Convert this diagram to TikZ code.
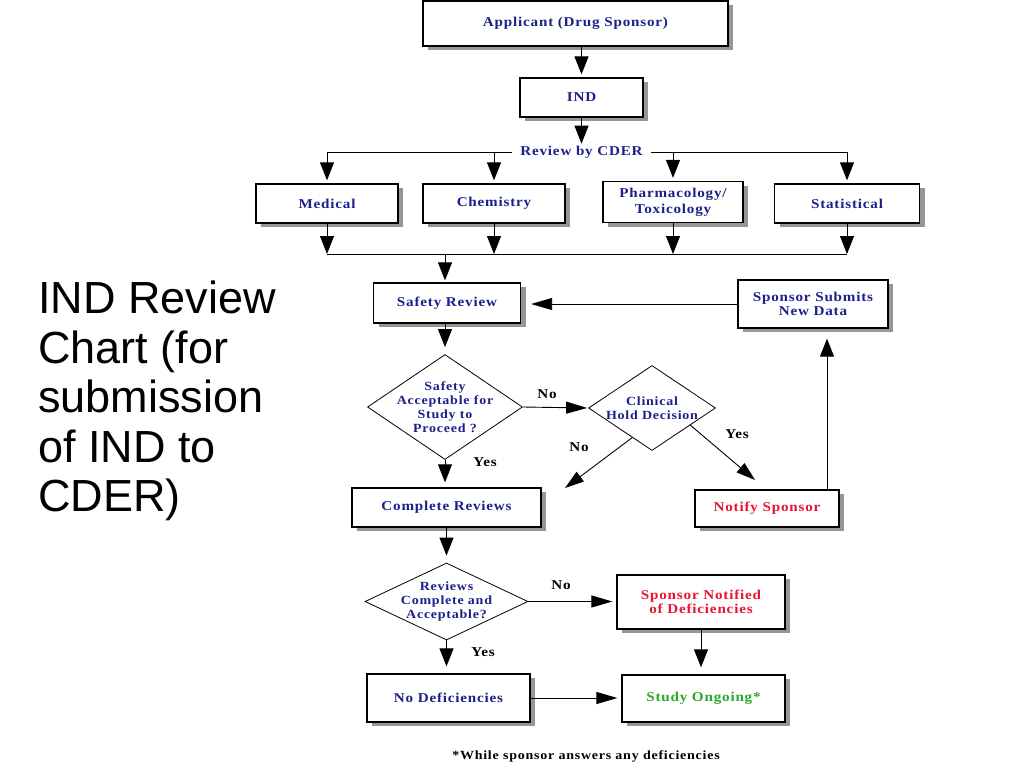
\documentclass[tikz,border=0pt]{standalone}
\usepackage{fontspec}
\setmainfont{Liberation Serif}[FakeStretch=1.12,LetterSpace=6]
\newfontfamily\bigsans{Liberation Sans}
\usetikzlibrary{shapes.geometric,shadows,arrows.meta,calc}
\definecolor{navy}{RGB}{28,32,138}
\definecolor{fred}{RGB}{232,20,50}
\definecolor{fgreen}{RGB}{40,170,40}
\definecolor{shadowgray}{RGB}{150,150,150}
\begin{document}
\begin{tikzpicture}[x=1pt,y=-1pt,
  box/.style={draw=black,line width=1.3pt,fill=white,inner sep=0pt,align=center,
    font=\fontsize{13.5}{14.5}\selectfont\bfseries,text=navy,
    drop shadow={shadow xshift=5pt,shadow yshift=-4pt,fill=shadowgray,opacity=1}},
  dia/.style={diamond,draw=black,line width=0.8pt,fill=white,inner sep=0pt},
  dtext/.style={align=center,inner sep=0pt,font=\fontsize{12.5}{14}\selectfont\bfseries,text=navy},
  lbl/.style={font=\fontsize{13.5}{14.5}\selectfont\bfseries,text=black,inner sep=0pt},
  conn/.style={line width=0.9pt,draw=black},
  arr/.style={conn,-{Triangle[length=18pt,width=14pt]}},
  harr/.style={conn,-{Triangle[length=21pt,width=12pt]}},
  darr/.style={conn,-{Triangle[length=19pt,width=12pt]}},
]
\useasboundingbox (0,0) rectangle (1024,768);

% big title text
\node[anchor=north west,inner sep=0pt,align=left,font=\bigsans\fontsize{45}{49.5}\selectfont] (title) at (38,281)
  {IND Review\\Chart (for\\submission\\of IND to\\CDER)};

% boxes
\node[box,minimum width=305pt,minimum height=45pt] (app) at (575.5,23.5) {Applicant (Drug Sponsor)};
\node[box,minimum width=123pt,minimum height=39pt] (ind) at (581.5,97.5) {IND};
\node[lbl,text=navy,inner xsep=8pt] (cder) at (581.5,152) {Review by CDER};

\node[box,minimum width=142pt,minimum height=39pt] (med) at (327,203.5) {Medical};
\node[box,minimum width=142pt,minimum height=39pt] (chem) at (494,203.5) {Chemistry};
\node[box,minimum width=140pt,minimum height=41pt,font=\fontsize{13.5}{16}\selectfont\bfseries] (pharm) at (673,202) {Pharmacology/\\Toxicology};
\node[box,minimum width=145pt,minimum height=39pt] (stat) at (847,203.5) {Statistical};

\node[box,minimum width=147pt,minimum height=40pt] (safety) at (447,303) {Safety Review};
\node[box,minimum width=150pt,minimum height=48pt] (submit) at (813,304) {Sponsor Submits\\New Data};

\node[dia,minimum width=155pt,minimum height=105pt] (d1) at (445,407) {};
\node[dtext] (d1t) at (445,407) {Safety\\Acceptable for\\Study to\\Proceed ?};
\node[dia,minimum width=127pt,minimum height=85pt] (d2) at (652,408) {};
\node[dtext] (d2t) at (652,408) {Clinical\\Hold Decision};

\node[box,minimum width=189pt,minimum height=39pt] (complete) at (446.5,507.5) {Complete Reviews};
\node[box,minimum width=144pt,minimum height=37pt,text=fred] (notify) at (767,508.5) {Notify Sponsor};

\node[dia,minimum width=163pt,minimum height=77pt] (d3) at (446.5,601.5) {};
\node[dtext] (d3t) at (446.5,601.5) {Reviews\\Complete and\\Acceptable?};

\node[box,minimum width=168pt,minimum height=54pt,text=fred] (sponsnot) at (701,602) {Sponsor Notified\\of Deficiencies};
\node[box,minimum width=163pt,minimum height=48pt] (nodef) at (448.5,698) {No Deficiencies};
\node[box,minimum width=163pt,minimum height=47pt,text=fgreen] (study) at (703.5,698.5) {Study Ongoing*};

\node[lbl,font=\fontsize{12.5}{14}\selectfont\bfseries] (foot) at (586,756) {*While sponsor answers any deficiencies};

% labels
\node[lbl] (l1) at (547,394) {No};
\node[lbl] (l2) at (579,447) {No};
\node[lbl] (l3) at (737,434) {Yes};
\node[lbl] (l4) at (485,462) {Yes};
\node[lbl] (l5) at (561,585) {No};
\node[lbl] (l6) at (483,652) {Yes};

% connectors top part
\draw[arr,shorten >=3pt] (ind.north |- app.south) -- (ind.north);
\draw[arr,shorten >=2pt] (ind.south) -- (cder.north);
\draw[conn] (cder.west) -- (med.north |- cder.west);
\draw[conn] (cder.east) -- (stat.north |- cder.east);
\foreach \n in {med,chem,pharm,stat}{
  \draw[arr,shorten >=3pt] (\n.north |- cder.west) -- (\n.north);
}
\coordinate (jn) at (445,254);
\foreach \n in {med,chem,pharm,stat}{
  \draw[arr] (\n.south) -- (\n.south |- jn);
}
\draw[conn] (med.south |- jn) -- (stat.south |- jn);
\draw[arr,shorten >=2pt] (jn) -- (jn |- safety.north);

% middle part
\draw[harr,shorten >=10pt] (submit.west) -- (safety.east |- submit.west);
\draw[arr,shorten >=7pt] (d1.north |- safety.south) -- (d1.north);
\draw[harr,shorten >=1pt] (d1.east) -- (d2.west);
\coordinate (noend) at (565,488);
\coordinate (yesend) at (755,480);
\draw[darr] ($(d2.west)!0.69!(d2.south)$) -- (noend);
\draw[darr] ($(d2.east)!0.4!(d2.south)$) -- (yesend);
\coordinate (upx) at (827,0);
\draw[arr,shorten >=10pt] (upx |- notify.north) -- (upx |- submit.south);
\draw[arr,shorten >=5pt] (d1.south) -- (d1.south |- complete.north);

% lower part
\draw[arr,shorten >=7pt] (complete.south) -- (complete.south |- d3.north);
\draw[harr,shorten >=4pt] (d3.east) -- (sponsnot.west |- d3.east);
\draw[arr,shorten >=7pt] (sponsnot.south) -- (sponsnot.south |- study.north);
\draw[arr,shorten >=7pt] (d3.south) -- (d3.south |- nodef.north);
\draw[harr,shorten >=4pt] (nodef.east) -- (study.west |- nodef.east);
\end{tikzpicture}
\end{document}
